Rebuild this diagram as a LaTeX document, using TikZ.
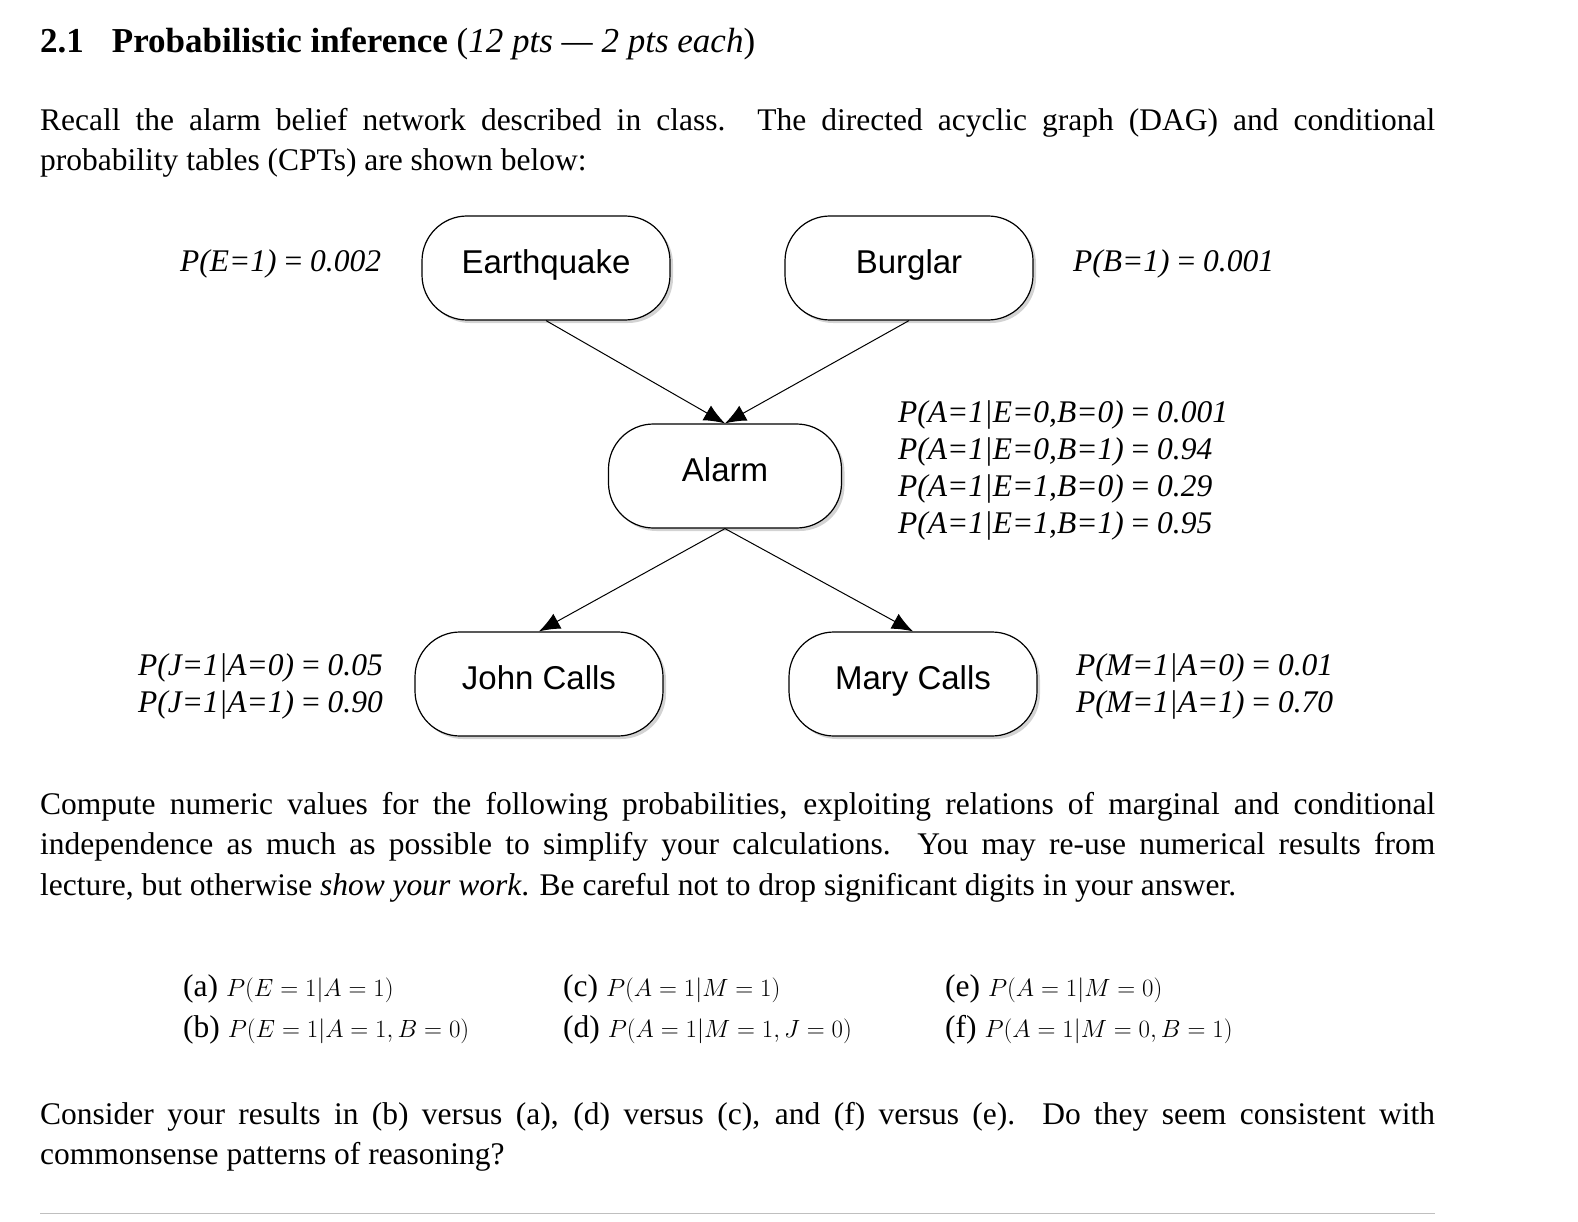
\documentclass[tikz,border=0pt]{standalone}
\usepackage{fontspec}
\setmainfont{Liberation Serif}
\newfontfamily\hsans{Liberation Sans}
\usetikzlibrary{arrows.meta,shadows}
\begin{document}
\begin{tikzpicture}[x=1pt,y=-1pt,
  bn/.style={draw,line width=1.2pt,rounded corners=45pt,minimum width=248pt,minimum height=104pt,fill=white,
    font=\hsans\fontsize{33}{38}\selectfont,text depth=12pt,
    drop shadow={shadow xshift=3pt,shadow yshift=-3pt,opacity=0.35}},
  cpt/.style={font=\fontsize{31.5}{37}\selectfont\itshape,inner sep=0pt},
  par/.style={anchor=north west,text width=1395pt,align=justify,inner sep=0pt,font=\fontsize{31.5}{40.5}\selectfont},
  txt/.style={anchor=west,inner sep=0pt,font=\fontsize{31.5}{40}\selectfont},
  arr/.style={-{Latex[length=21pt,width=17pt]},line width=1pt}]
\useasboundingbox (0,0) rectangle (1578,1222);
\node[txt,font=\fontsize{35}{40}\selectfont] (title) at (40,44) {\textbf{2.1\hspace{28pt}Probabilistic inference} (\textit{12 pts --- 2 pts each})};
\node[par] (p1) at (40,108) {Recall the alarm belief network described in class. The directed acyclic graph (DAG) and conditional\linebreak probability tables (CPTs) are shown below:};
\node[bn] (E) at (546,268) {Earthquake};
\node[bn] (B) at (909,268) {Burglar};
\node[bn,minimum width=233pt] (A) at (725,476) {Alarm};
\node[bn] (J) at (539,684) {John Calls};
\node[bn] (M) at (913,684) {Mary Calls};
\draw[arr] (E.south) -- (A.north);
\draw[arr] (B.south) -- (A.north);
\draw[arr] (A.south) -- (J.north);
\draw[arr] (A.south) -- (M.north);
\node[cpt,anchor=west] (pe) at (180,264) {P(E=1)\upshape{} = \itshape 0.002};
\node[cpt,anchor=west] (pb) at (1073,264) {P(B=1)\upshape{} = \itshape 0.001};
\node[cpt,anchor=north west,align=left] (pa) at (898,400) {P(A=1|E=0,B=0)\upshape{} = \itshape 0.001\\P(A=1|E=0,B=1)\upshape{} = \itshape 0.94\\P(A=1|E=1,B=0)\upshape{} = \itshape 0.29\\P(A=1|E=1,B=1)\upshape{} = \itshape 0.95};
\node[cpt,anchor=north east,align=right] (pj) at (383,653) {P(J=1|A=0)\upshape{} = \itshape 0.05\\P(J=1|A=1)\upshape{} = \itshape 0.90};
\node[cpt,anchor=north west,align=left] (pm) at (1076,653) {P(M=1|A=0)\upshape{} = \itshape 0.01\\P(M=1|A=1)\upshape{} = \itshape 0.70};
\node[par] (p2) at (40,792) {Compute numeric values for the following probabilities, exploiting relations of marginal and conditional\linebreak independence as much as possible to simplify your calculations. You may re-use numerical results from\linebreak lecture, but otherwise \textit{show your work}. Be careful not to drop significant digits in your answer.};
\begin{scope}[txt/.append style={font=\fontsize{31.5}{40}\selectfont}]
\node[txt] (qa) at (183,989) {(a) $P(E=1|A=1)$};
\node[txt] (qb) at (183,1030) {(b) $P(E=1|A=1,B=0)$};
\node[txt] (qc) at (563,989) {(c) $P(A=1|M=1)$};
\node[txt] (qd) at (563,1030) {(d) $P(A=1|M=1,J=0)$};
\node[txt] (qe) at (945,989) {(e) $P(A=1|M=0)$};
\node[txt] (qf) at (945,1030) {(f) $P(A=1|M=0,B=1)$};
\end{scope}
\node[par] (p3) at (40,1102) {Consider your results in (b) versus (a), (d) versus (c), and (f) versus (e). Do they seem consistent with\linebreak commonsense patterns of reasoning?};
\coordinate (l1) at (40,1213); \coordinate (l2) at (1435,1213);
\draw[gray!50,line width=1pt] (l1) -- (l2);
\end{tikzpicture}
\end{document}
